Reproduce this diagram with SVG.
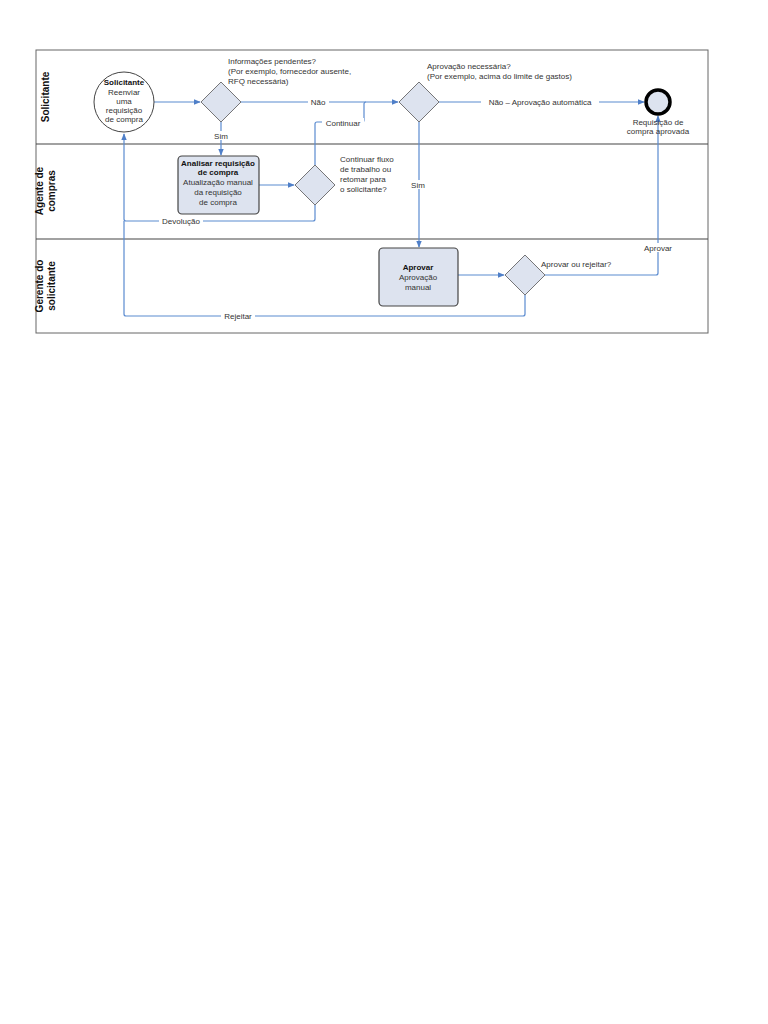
<svg xmlns="http://www.w3.org/2000/svg" width="768" height="1024" viewBox="0 0 768 1024">
<style>
text{font-family:"Liberation Sans",Arial,sans-serif;font-size:8px;fill:#333}
.b{font-weight:bold;fill:#111}
.lane{font-weight:bold;font-size:10px;fill:#111}
.c{fill:none;stroke:#5B8BD0;stroke-width:1.2}
.d{fill:#DDE3EF;stroke:#555;stroke-width:0.8}
.lb{fill:#fff}
</style>
<defs><marker id="a" viewBox="0 0 10 10" refX="9" refY="5" markerWidth="6" markerHeight="6" orient="auto"><path d="M0,1L10,5L0,9z" fill="#4F7FC8"/></marker></defs>
<rect width="768" height="1024" fill="#fff"/>
<g id="pool">
<rect x="36" y="50" width="672" height="283" fill="#fff" stroke="#666" stroke-width="1"/>
<line x1="36" y1="144" x2="708" y2="144" stroke="#444" stroke-width="1.2"/>
<line x1="36" y1="239" x2="708" y2="239" stroke="#444" stroke-width="1.2"/>
<text class="lane" transform="translate(49,97) rotate(-90)" text-anchor="middle">Solicitante</text>
<text class="lane" transform="translate(43,191) rotate(-90)" text-anchor="middle">Agente de</text>
<text class="lane" transform="translate(55,191) rotate(-90)" text-anchor="middle">compras</text>
<text class="lane" transform="translate(43,286) rotate(-90)" text-anchor="middle">Gerente do</text>
<text class="lane" transform="translate(55,286) rotate(-90)" text-anchor="middle">solicitante</text>
</g>
<g id="connectors">
<path class="c" d="M154,102H200" marker-end="url(#a)"/>
<path class="c" d="M241,102H398" marker-end="url(#a)"/>
<path class="c" d="M221,122V155" marker-end="url(#a)"/>
<path class="c" d="M259,185H294" marker-end="url(#a)"/>
<path class="c" d="M315,165V124Q315,122 317,122H362Q364,122 364,120V104Q364,102 366,102"/>
<path class="c" d="M315,205V219Q315,221 313,221H126Q124,221 124,219V134" marker-end="url(#a)"/>
<path class="c" d="M525,295V314Q525,316 523,316H126Q124,316 124,314V221"/>
<path class="c" d="M439,102H644" marker-end="url(#a)"/>
<path class="c" d="M419,122V247" marker-end="url(#a)"/>
<path class="c" d="M458,275H504" marker-end="url(#a)"/>
<path class="c" d="M545,275H656Q658,275 658,273V116" marker-end="url(#a)"/>
<rect class="lb" x="308" y="97" width="21" height="9"/><text x="318" y="105" text-anchor="middle">Não</text>
<rect class="lb" x="211" y="131" width="20" height="9"/><text x="221" y="139" text-anchor="middle">Sim</text>
<rect class="lb" x="322" y="118" width="42" height="9"/><text x="343" y="126" text-anchor="middle">Continuar</text>
<rect class="lb" x="159" y="216" width="44" height="9"/><text x="181" y="224" text-anchor="middle">Devolução</text>
<rect class="lb" x="221" y="311" width="34" height="9"/><text x="238" y="319" text-anchor="middle">Rejeitar</text>
<rect class="lb" x="481" y="97" width="118" height="9"/><text x="540" y="105" text-anchor="middle">Não – Aprovação automática</text>
<rect class="lb" x="408" y="180" width="20" height="9"/><text x="418" y="188" text-anchor="middle">Sim</text>
<rect class="lb" x="642" y="243" width="33" height="9"/><text x="658" y="251" text-anchor="middle">Aprovar</text>
</g>
<g id="start">
<circle cx="124" cy="102" r="30" fill="#fff" stroke="#444" stroke-width="1"/>
<text class="b" x="124" y="85" text-anchor="middle" font-size="8.5">Solicitante</text>
<text x="124" y="95" text-anchor="middle">Reenviar</text>
<text x="124" y="104" text-anchor="middle">uma</text>
<text x="124" y="113" text-anchor="middle">requisição</text>
<text x="124" y="122" text-anchor="middle">de compra</text>
</g>
<g id="d1">
<path class="d" d="M221,82L241,102L221,122L201,102z"/>
<text x="228" y="64">Informações pendentes?</text>
<text x="228" y="74">(Por exemplo, fornecedor ausente,</text>
<text x="228" y="84">RFQ necessária)</text>
</g>
<g id="analisar">
<rect x="178" y="156" width="81" height="58" rx="4" fill="#DDE3EF" stroke="#444" stroke-width="1.2"/>
<text class="b" x="218" y="166" text-anchor="middle">Analisar requisição</text>
<text class="b" x="218" y="175" text-anchor="middle">de compra</text>
<text x="218" y="185" text-anchor="middle">Atualização manual</text>
<text x="218" y="195" text-anchor="middle">da requisição</text>
<text x="218" y="205" text-anchor="middle">de compra</text>
</g>
<g id="d3">
<path class="d" d="M315,165L335,185L315,205L295,185z"/>
<text x="340" y="162">Continuar fluxo</text>
<text x="340" y="172">de trabalho ou</text>
<text x="340" y="182">retomar para</text>
<text x="340" y="192">o solicitante?</text>
</g>
<g id="d2">
<path class="d" d="M419,82L439,102L419,122L399,102z"/>
<text x="427" y="69">Aprovação necessária?</text>
<text x="427" y="79">(Por exemplo, acima do limite de gastos)</text>
</g>
<g id="end">
<circle cx="658" cy="102" r="12" fill="#DDE3EF" stroke="#000" stroke-width="3.5"/>
<text x="658" y="125" text-anchor="middle">Requisição de</text>
<text x="658" y="134" text-anchor="middle">compra aprovada</text>
</g>
<g id="aprovar">
<rect x="379" y="248" width="79" height="58" rx="4" fill="#DDE3EF" stroke="#444" stroke-width="1.2"/>
<text class="b" x="418" y="270" text-anchor="middle">Aprovar</text>
<text x="418" y="280" text-anchor="middle">Aprovação</text>
<text x="418" y="290" text-anchor="middle">manual</text>
</g>
<g id="d4">
<path class="d" d="M525,255L545,275L525,295L505,275z"/>
<text x="541" y="267">Aprovar ou rejeitar?</text>
</g>
</svg>
